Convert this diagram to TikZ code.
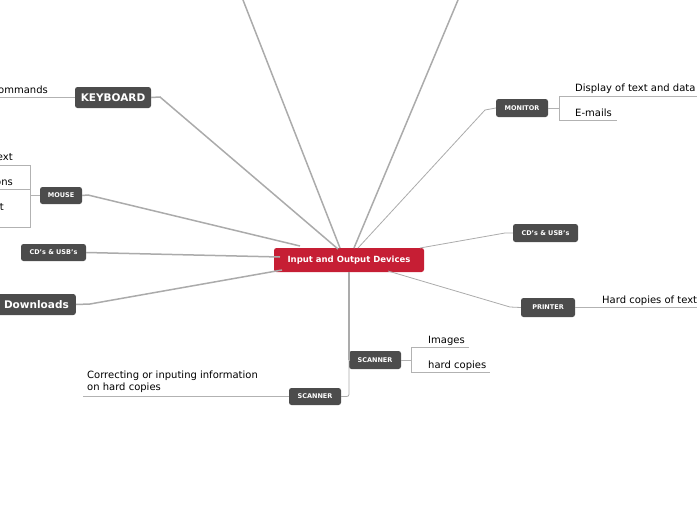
\documentclass[tikz,border=0pt]{standalone}
\usepackage{fontspec}
\setmainfont{DejaVu Sans}
\begin{document}
\begin{tikzpicture}[x=1pt,y=-1pt,
  nd/.style={fill=black!70,text=white,rounded corners=2.5pt,font=\bfseries\fontsize{6.5}{7}\selectfont,inner sep=0pt,minimum height=18pt},
  big/.style={nd,font=\bfseries\fontsize{10.5}{12}\selectfont,minimum height=21pt},
  ln/.style={draw=black!33,line width=0.8pt},
  th/.style={draw=black!33,line width=1.5pt},
  lf/.style={font=\fontsize{10}{12}\selectfont,anchor=base west,inner sep=0pt},
  sub/.style={draw=black!30,line width=0.6pt}]
\useasboundingbox (0,0) rectangle (697,520);
\node[nd,fill={rgb,255:red,198;green,30;blue,52},minimum width=150pt,minimum height=24pt,font=\bfseries\fontsize{8.5}{9}\selectfont] (c) at (349,260) {Input and Output Devices};
\coordinate (t1) at (243,0); \coordinate (t2) at (458,0);
\node[big,minimum width=76pt] (kb) at (113,97.5) {KEYBOARD};
\node[nd,minimum width=42pt,minimum height=17pt] (ms) at (61,195.5) {MOUSE};
\node[nd,minimum width=65pt,minimum height=17pt] (cdl) at (53.5,252.5) {CD's \& USB's};
\node[big,inner xsep=7pt,anchor=east] (sd) at (76,304.5) {Software Downloads};
\node[nd,minimum width=52pt] (mon) at (522,108) {MONITOR};
\node[nd,minimum width=65pt] (cdr) at (545.5,233) {CD's \& USB's};
\node[nd,minimum width=54pt,minimum height=19pt] (pr) at (548,307.5) {PRINTER};
\node[nd,minimum width=52pt] (sc1) at (375,360) {SCANNER};
\node[nd,minimum width=52pt,minimum height=17pt] (sc2) at (315,396.5) {SCANNER};
% connectors
\draw[th] (340,248) -- (t1);
\draw[th] (354,248) -- (t2);
\draw[th] (338,249) -- (160,97) -- (kb.east);
\draw[th] (300,246) -- (88,195) -- (ms.east);
\draw[th] (280,257) -- (cdl.east);
\draw[th] (282,270) -- (90,304) -- (sd.east);
\draw[ln] (358,248) -- (485,110) -- (mon.west);
\draw[ln] (420,248) -- (505,233) -- (cdr.west);
\draw[ln] (388,271) -- (510,307) -- (pr.west);
\draw[th] (349,272) -- (349,360) -- (sc1.west);
\draw[ln] (349,360) -- (349,392) .. controls (349,396.5) .. (344,396.5) -- (sc2.east);
% keyboard leaf
\draw[sub] (kb.west) -- (0,97.5);
\node[lf,anchor=base east] (k1) at (48,93) {Typing commands};
% mouse leaves
\draw[sub] (ms.west) -- (30,195.5);
\draw[sub] (0,165) -- (30,165) -- (30,227) -- (0,227);
\draw[sub] (0,189.5) -- (30,189.5);
\node[lf,anchor=base east] (m1) at (13,160) {Text};
\node[lf,anchor=base east] (m2) at (13,185) {Options};
\node[lf,anchor=base east] (m3) at (4,210) {Select};
% monitor leaves
\draw[sub] (mon.east) -- (559,108);
\draw[sub] (697,96) -- (559,96) -- (559,120.5) -- (617,120.5);
\node[lf] (o1) at (575,91) {Display of text and data};
\node[lf] (o2) at (575,116) {E-mails};
% printer leaf
\draw[sub] (pr.east) -- (697,307.5);
\node[lf] (p1) at (602,303) {Hard copies of text};
% scanner1 leaves
\draw[sub] (sc1.east) -- (411,360);
\draw[sub] (469,347.5) -- (411,347.5) -- (411,372.5) -- (490,372.5);
\node[lf] (s1) at (428,343) {Images};
\node[lf] (s2) at (428,368) {hard copies};
% scanner2 leaf
\draw[sub] (sc2.west) -- (83,396.5);
\node[lf,align=left,anchor=north west] (s3) at (87,371) {Correcting or inputing information\\on hard copies};
\end{tikzpicture}
\end{document}
